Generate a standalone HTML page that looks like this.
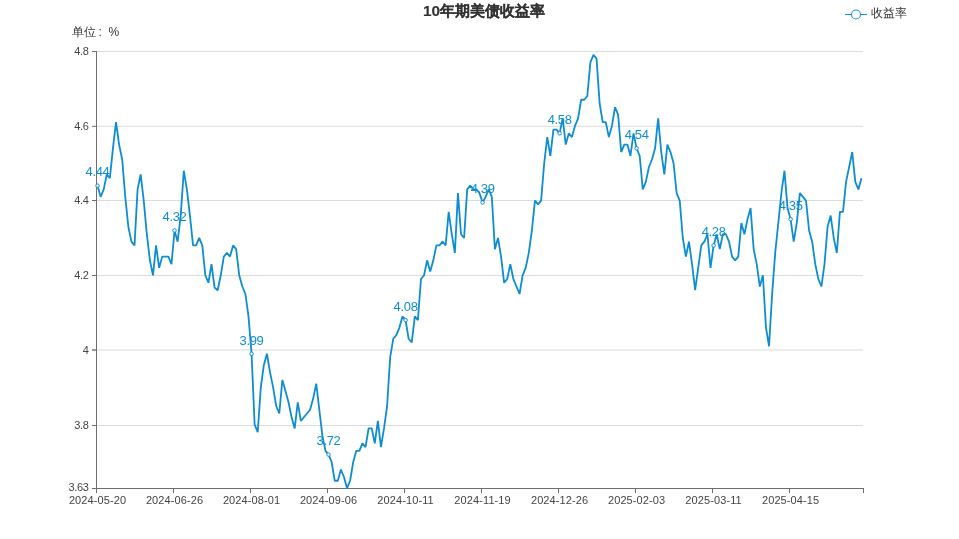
<!DOCTYPE html>
<html><head><meta charset="utf-8">
<style>
html,body{margin:0;padding:0;background:#fff;}
body{width:959px;height:539px;overflow:hidden;position:relative;font-family:"Liberation Sans",sans-serif;}
svg{position:absolute;left:0;top:0;will-change:transform;}
.al{font-size:11px;fill:#444;letter-spacing:0.1px;}
.yl{letter-spacing:-0.4px;}
.dl{font-size:13px;letter-spacing:-0.35px;fill:#0e8dd3;}
.title{font-size:15.4px;font-weight:bold;fill:#333;stroke:#333;stroke-width:0.12px;}
.leg{font-size:12px;fill:#333;}
</style></head><body>
<svg width="959" height="539" viewBox="0 0 959 539">
<rect width="959" height="539" fill="#fff"/>
<text x="484" y="16" text-anchor="middle" class="title">10年期美债收益率</text>
<text x="72" y="35.8" class="leg">单位</text><text x="98.6" y="35.8" class="leg">:</text><text x="108.6" y="35.8" class="leg">%</text>
<line x1="845" y1="14.5" x2="867" y2="14.5" stroke="#1592d6" stroke-width="1"/>
<circle cx="856" cy="14.5" r="4.5" fill="#fff" stroke="#1a95d8" stroke-width="1.1"/>
<text x="871" y="16.6" class="leg">收益率</text>
<line x1="96.0" y1="51.50" x2="863.0" y2="51.50" stroke="#dcdcdc" stroke-width="1"/>
<line x1="96.0" y1="126.30" x2="863.0" y2="126.30" stroke="#dcdcdc" stroke-width="1"/>
<line x1="96.0" y1="200.50" x2="863.0" y2="200.50" stroke="#dcdcdc" stroke-width="1"/>
<line x1="96.0" y1="275.50" x2="863.0" y2="275.50" stroke="#dcdcdc" stroke-width="1"/>
<line x1="96.0" y1="350.00" x2="863.0" y2="350.00" stroke="#e6e6e6" stroke-width="1.7"/>
<line x1="96.0" y1="425.50" x2="863.0" y2="425.50" stroke="#dcdcdc" stroke-width="1"/>
<line x1="92" y1="51.50" x2="96.5" y2="51.50" stroke="#6e6e6e" stroke-width="1"/>
<text x="88.4" y="55.00" text-anchor="end" class="al yl">4.8</text>
<line x1="92" y1="126.30" x2="96.5" y2="126.30" stroke="#6e6e6e" stroke-width="1"/>
<text x="88.4" y="129.80" text-anchor="end" class="al yl">4.6</text>
<line x1="92" y1="200.50" x2="96.5" y2="200.50" stroke="#6e6e6e" stroke-width="1"/>
<text x="88.4" y="204.00" text-anchor="end" class="al yl">4.4</text>
<line x1="92" y1="275.50" x2="96.5" y2="275.50" stroke="#6e6e6e" stroke-width="1"/>
<text x="88.4" y="279.00" text-anchor="end" class="al yl">4.2</text>
<line x1="92" y1="350.00" x2="96.5" y2="350.00" stroke="#8c8c8c" stroke-width="1.7"/>
<text x="88.4" y="353.50" text-anchor="end" class="al yl">4</text>
<line x1="92" y1="425.50" x2="96.5" y2="425.50" stroke="#6e6e6e" stroke-width="1"/>
<text x="88.4" y="429.00" text-anchor="end" class="al yl">3.8</text>
<line x1="92" y1="488.50" x2="96.5" y2="488.50" stroke="#6e6e6e" stroke-width="1"/>
<text x="88.4" y="491.10" text-anchor="end" class="al yl">3.63</text>
<line x1="96.5" y1="51" x2="96.5" y2="488.5" stroke="#6e6e6e" stroke-width="1"/>
<line x1="96" y1="488.5" x2="864" y2="488.5" stroke="#6e6e6e" stroke-width="1"/>
<line x1="96.5" y1="488" x2="96.5" y2="493" stroke="#6e6e6e" stroke-width="1"/>
<line x1="173.5" y1="488" x2="173.5" y2="493" stroke="#6e6e6e" stroke-width="1"/>
<line x1="250.5" y1="488" x2="250.5" y2="493" stroke="#6e6e6e" stroke-width="1"/>
<line x1="327.5" y1="488" x2="327.5" y2="493" stroke="#6e6e6e" stroke-width="1"/>
<line x1="404.5" y1="488" x2="404.5" y2="493" stroke="#6e6e6e" stroke-width="1"/>
<line x1="481.5" y1="488" x2="481.5" y2="493" stroke="#6e6e6e" stroke-width="1"/>
<line x1="558.5" y1="488" x2="558.5" y2="493" stroke="#6e6e6e" stroke-width="1"/>
<line x1="635.5" y1="488" x2="635.5" y2="493" stroke="#6e6e6e" stroke-width="1"/>
<line x1="712.5" y1="488" x2="712.5" y2="493" stroke="#6e6e6e" stroke-width="1"/>
<line x1="789.5" y1="488" x2="789.5" y2="493" stroke="#6e6e6e" stroke-width="1"/>
<line x1="863.5" y1="488" x2="863.5" y2="493" stroke="#6e6e6e" stroke-width="1"/>
<text x="97.54" y="504" text-anchor="middle" class="al">2024-05-20</text>
<text x="174.55" y="504" text-anchor="middle" class="al">2024-06-26</text>
<text x="251.56" y="504" text-anchor="middle" class="al">2024-08-01</text>
<text x="328.56" y="504" text-anchor="middle" class="al">2024-09-06</text>
<text x="405.57" y="504" text-anchor="middle" class="al">2024-10-11</text>
<text x="482.58" y="504" text-anchor="middle" class="al">2024-11-19</text>
<text x="559.59" y="504" text-anchor="middle" class="al">2024-12-26</text>
<text x="636.60" y="504" text-anchor="middle" class="al">2025-02-03</text>
<text x="713.60" y="504" text-anchor="middle" class="al">2025-03-11</text>
<text x="790.61" y="504" text-anchor="middle" class="al">2025-04-15</text>
<polyline points="97.54,185.66 100.62,196.87 103.70,189.40 106.78,174.46 109.86,178.19 112.94,148.31 116.02,122.17 119.10,144.58 122.18,159.52 125.26,196.87 128.34,226.75 131.42,241.69 134.50,245.42 137.58,189.40 140.66,174.46 143.74,200.60 146.83,234.22 149.91,260.36 152.99,275.30 156.07,245.42 159.15,267.83 162.23,256.63 165.31,256.63 168.39,256.63 171.47,264.10 174.55,230.48 177.63,241.69 180.71,215.54 183.79,170.72 186.87,189.40 189.95,215.54 193.03,245.42 196.11,245.42 199.19,237.95 202.27,245.42 205.35,275.30 208.43,282.77 211.51,264.10 214.59,287.63 217.67,290.24 220.75,275.30 223.83,256.63 226.91,252.89 229.99,256.63 233.07,245.42 236.15,249.16 239.23,275.30 242.32,286.51 245.40,293.98 248.48,316.39 251.56,353.74 254.64,424.70 257.72,432.17 260.80,387.35 263.88,364.94 266.96,353.74 270.04,372.41 273.12,387.35 276.20,406.03 279.28,413.50 282.36,379.88 285.44,391.09 288.52,402.29 291.60,417.23 294.68,428.44 297.76,402.29 300.84,420.97 303.92,417.23 307.00,413.50 310.08,409.76 313.16,398.56 316.24,383.62 319.32,409.76 322.40,435.91 325.48,450.85 328.56,454.58 331.64,462.05 334.72,480.73 337.81,480.73 340.89,469.52 343.97,476.99 347.05,488.20 350.13,480.73 353.21,462.05 356.29,450.85 359.37,450.85 362.45,443.38 365.53,447.11 368.61,428.44 371.69,428.44 374.77,443.38 377.85,420.97 380.93,447.11 384.01,428.44 387.09,406.03 390.17,357.47 393.25,338.80 396.33,335.06 399.41,327.59 402.49,316.39 405.57,320.12 408.65,338.80 411.73,342.53 414.81,316.39 417.89,320.12 420.97,279.04 424.05,275.30 427.13,260.36 430.21,271.57 433.30,260.36 436.38,245.42 439.46,245.42 442.54,241.69 445.62,245.42 448.70,211.81 451.78,234.22 454.86,252.89 457.94,193.13 461.02,234.22 464.10,237.95 467.18,189.40 470.26,185.66 473.34,189.40 476.42,189.40 479.50,193.13 482.58,202.47 485.66,196.87 488.74,189.40 491.82,196.87 494.90,249.16 497.98,237.95 501.06,256.63 504.14,282.77 507.22,279.04 510.30,264.10 513.38,279.04 516.46,286.51 519.54,293.98 522.62,275.30 525.70,267.83 528.79,252.89 531.87,230.48 534.95,200.60 538.03,204.34 541.11,200.60 544.19,163.25 547.27,137.11 550.35,155.78 553.43,129.64 556.51,129.64 559.59,133.37 562.67,118.43 565.75,144.58 568.83,133.37 571.91,137.11 574.99,125.90 578.07,118.43 581.15,99.76 584.23,99.76 587.31,96.02 590.39,62.41 593.47,54.94 596.55,58.67 599.63,103.49 602.71,122.17 605.79,122.17 608.87,137.11 611.95,125.90 615.03,107.23 618.11,114.70 621.19,152.05 624.28,144.58 627.36,144.58 630.44,155.78 633.52,133.37 636.60,148.31 639.68,155.78 642.76,189.40 645.84,181.93 648.92,166.99 652.00,159.52 655.08,148.31 658.16,118.43 661.24,152.05 664.32,174.46 667.40,144.58 670.48,152.05 673.56,163.25 676.64,193.13 679.72,200.60 682.80,237.95 685.88,256.63 688.96,241.69 692.04,264.10 695.12,290.24 698.20,267.83 701.28,245.42 704.36,241.69 707.44,234.22 710.52,267.83 713.60,245.42 716.68,234.22 719.77,249.16 722.85,234.22 725.93,234.22 729.01,241.69 732.09,256.63 735.17,260.36 738.25,256.63 741.33,223.01 744.41,234.22 747.49,219.28 750.57,208.07 753.65,249.16 756.73,264.10 759.81,286.51 762.89,275.30 765.97,327.59 769.05,346.27 772.13,293.98 775.21,252.89 778.29,223.01 781.37,193.13 784.45,170.72 787.53,208.07 790.61,219.28 793.69,241.69 796.77,223.01 799.85,193.13 802.93,196.87 806.01,200.60 809.09,230.48 812.17,241.69 815.26,264.10 818.34,279.04 821.42,286.51 824.50,264.10 827.58,226.75 830.66,215.54 833.74,237.95 836.82,252.89 839.90,211.81 842.98,211.81 846.06,181.93 849.14,166.99 852.22,152.05 855.30,181.93 858.38,189.40 861.46,178.19" fill="none" stroke="#0e8dd3" stroke-width="1.8" stroke-linejoin="bevel"/>
<circle cx="97.54" cy="185.66" r="1.75" fill="#fff" stroke="#0e8dd3" stroke-width="1"/>
<text x="97.54" y="176.46" text-anchor="middle" class="dl">4.44</text>
<circle cx="174.55" cy="230.48" r="1.75" fill="#fff" stroke="#0e8dd3" stroke-width="1"/>
<text x="174.55" y="221.28" text-anchor="middle" class="dl">4.32</text>
<circle cx="251.56" cy="353.74" r="1.75" fill="#fff" stroke="#0e8dd3" stroke-width="1"/>
<text x="251.56" y="344.54" text-anchor="middle" class="dl">3.99</text>
<circle cx="328.56" cy="454.58" r="1.75" fill="#fff" stroke="#0e8dd3" stroke-width="1"/>
<text x="328.56" y="445.38" text-anchor="middle" class="dl">3.72</text>
<circle cx="405.57" cy="320.12" r="1.75" fill="#fff" stroke="#0e8dd3" stroke-width="1"/>
<text x="405.57" y="310.92" text-anchor="middle" class="dl">4.08</text>
<circle cx="482.58" cy="202.47" r="1.75" fill="#fff" stroke="#0e8dd3" stroke-width="1"/>
<text x="482.58" y="193.27" text-anchor="middle" class="dl">4.39</text>
<circle cx="559.59" cy="133.37" r="1.75" fill="#fff" stroke="#0e8dd3" stroke-width="1"/>
<text x="559.59" y="124.17" text-anchor="middle" class="dl">4.58</text>
<circle cx="636.60" cy="148.31" r="1.75" fill="#fff" stroke="#0e8dd3" stroke-width="1"/>
<text x="636.60" y="139.11" text-anchor="middle" class="dl">4.54</text>
<circle cx="713.60" cy="245.42" r="1.75" fill="#fff" stroke="#0e8dd3" stroke-width="1"/>
<text x="713.60" y="236.22" text-anchor="middle" class="dl">4.28</text>
<circle cx="790.61" cy="219.28" r="1.75" fill="#fff" stroke="#0e8dd3" stroke-width="1"/>
<text x="790.61" y="210.08" text-anchor="middle" class="dl">4.35</text>
</svg>
</body></html>
